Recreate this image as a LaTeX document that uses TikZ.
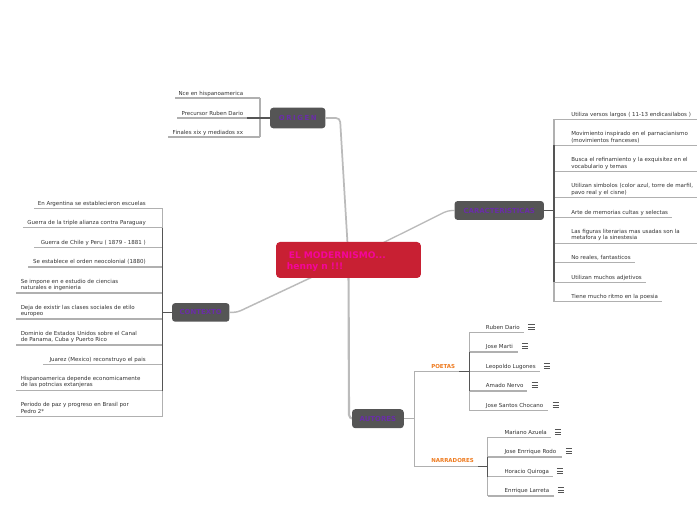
\documentclass[tikz,border=0pt]{standalone}
\usepackage{fontspec}
\usetikzlibrary{backgrounds}
\setmainfont{DejaVu Sans}
\newfontfamily\spacedbold[LetterSpace=22]{DejaVu Sans Bold}
\definecolor{boxgrey}{HTML}{555555}
\definecolor{boxred}{HTML}{C82033}
\definecolor{titlepurple}{HTML}{6A2DA8}
\definecolor{titlepink}{HTML}{F5059A}
\definecolor{subor}{HTML}{EE7A1E}
\definecolor{leafline}{HTML}{B0B0B0}
\definecolor{hubline}{HTML}{555555}
\definecolor{mainline}{HTML}{BBBBBB}
\definecolor{leaftext}{HTML}{333333}
\tikzset{
  x=0.75pt,y=-0.75pt,
  topicbox/.style={draw=none,fill=boxgrey,rounded corners=2.4pt,inner sep=0pt,text=titlepurple,
    font=\fontsize{5.2pt}{6pt}\selectfont\bfseries},
  rootbox/.style={fill=boxred,rounded corners=3pt,inner xsep=8.2pt,inner ysep=0pt,text=titlepink,
    minimum width=108.7pt,minimum height=27pt,text width=92.3pt,align=left,
    font=\fontsize{6.8pt}{8.2pt}\selectfont\bfseries},
  leaf/.style={inner sep=0pt,text=leaftext,align=left,font=\fontsize{4.12pt}{4.9pt}\selectfont},
  leafl/.style={leaf,anchor=west},
  leafr/.style={leaf,anchor=east},
  subtopic/.style={inner sep=0pt,anchor=west,text=subor,font=\fontsize{4.1pt}{5pt}\selectfont\bfseries},
  branch/.style={draw=leafline,line width=0.8pt},
  hub/.style={draw=hubline,line width=1pt},
  mainlink/.style={draw=mainline,line width=1.3pt,rounded corners=3pt},
  iconbar/.style={draw=hubline,line width=0.55pt}
}
\newcommand\uline[4]{\coordinate (#1a) at (#2,#4); \coordinate (#1b) at (#3,#4); \draw[branch] (#1a) -- (#1b);}
\newcommand\menuicon[3]{\coordinate (#1) at (#2,#3);
  \draw[iconbar] ([xshift=-2.4pt,yshift=2pt]#1) -- ([xshift=2.4pt,yshift=2pt]#1)
    ([xshift=-2.4pt]#1) -- ([xshift=2.4pt]#1)
    ([xshift=-2.4pt,yshift=-2pt]#1) -- ([xshift=2.4pt,yshift=-2pt]#1);}
\begin{document}
\begin{tikzpicture}
\useasboundingbox (0,0) rectangle (697,520);

% main nodes
\node[rootbox] (root) at (348.5,260) {\rule{0pt}{7pt}\hspace*{1.5pt}EL MODERNISMO...\\henny n !!!};
\node[topicbox,minimum width=41.6pt,minimum height=15.4pt] (origen) at (297.75,118) {{\spacedbold ORIGEN}};
\node[topicbox,minimum width=67.1pt,minimum height=14.2pt] (carac) at (499.25,210.5) {CARACTERISTICAS};
\node[topicbox,minimum width=38.8pt,minimum height=14.2pt] (autores) at (377.9,418.7) {AUTORES};
\node[topicbox,minimum width=43.1pt,minimum height=14pt] (contexto) at (200.75,312.4) {CONTEXTO};

\begin{scope}[on background layer]
  \fill[white] (0,0) rectangle (697,520);
  \draw[mainlink] (root.center) -- (340,118) -- (origen.east);
  \draw[mainlink,line width=1.6pt] (root.center) -- (349,418.7) -- (autores.west);
  \draw[mainlink,line width=1pt] (root.center) -- (448,210.5) -- (carac.west);
  \draw[mainlink,line width=1.1pt] (root.center) -- (237,312.4) -- (contexto.east);
\end{scope}

% ORIGEN
\uline{oa}{175}{260}{98}
\uline{ob}{177}{260}{118}
\uline{oc}{168}{260}{137}
\draw[branch] (oab) -- (ocb);
\draw[hub] (origen.west) -- (247,118);
\node[leafr] (o1) at (243.5,93.5) {Nce en hispanoamerica};
\node[leafr] (o2) at (243.5,113) {Precursor Ruben Dario};
\node[leafr] (o3) at (243.5,132.5) {Finales xix y mediados xx};

% CARACTERISTICAS
\uline{ca}{554}{697}{119.3}
\uline{cb}{554}{697}{145.3}
\uline{cc}{554}{697}{171.3}
\uline{cd}{554}{697}{197.3}
\uline{ce}{554}{671.7}{217.3}
\uline{cf}{554}{697}{243.3}
\uline{cg}{554}{635}{262.7}
\uline{ch}{554}{645.7}{282.3}
\uline{ci}{554}{661.7}{301.7}
\draw[branch] (caa) -- (cia);
\draw[hub] (cba) -- (cha);
\draw[hub] (carac.east) -- (carac.east-|cca);
\node[leafl] (c1) at (571,114.5) {Utiliza versos largos ( 11-13 endicasilabos )};
\node[leafl] (c2) at (571,137.5) {Movimiento inspirado en el parnacianismo\\(movimientos franceses)};
\node[leafl] (c3) at (571,163.5) {Busca el refinamiento y la exquisitez en el\\vocabulario y temas};
\node[leafl] (c4) at (571,189.5) {Utilizan simbolos (color azul, torre de marfil,\\pavo real y el cisne)};
\node[leafl] (c5) at (571,212.5) {Arte de memorias cultas y selectas};
\node[leafl] (c6) at (571,235) {Las figuras literarias mas usadas son la\\metafora y la sinestesia};
\node[leafl] (c7) at (571,257.5) {No reales, fantasticos};
\node[leafl] (c8) at (571,277.5) {Utilizan muchos adjetivos};
\node[leafl] (c9) at (571,296.8) {Tiene mucho ritmo en la poesia};

% CONTEXTO
\uline{xa}{34}{162.5}{208.3}
\uline{xb}{23}{162.5}{227.7}
\uline{xc}{34}{162.5}{247.3}
\uline{xd}{28}{162.5}{267}
\uline{xe}{16}{162.5}{293}
\uline{xf}{16}{162.5}{319}
\uline{xg}{16}{162.5}{345}
\uline{xh}{43}{162.5}{364.7}
\uline{xi}{16}{162.5}{390.7}
\uline{xj}{16}{162.5}{416.7}
\draw[branch] (xab) -- (xjb);
\draw[hub] (xbb) -- (xib);
\draw[hub] (contexto.west) -- (contexto.west-|xab);
\node[leafr] (x1) at (146,203.5) {En Argentina se establecieron escuelas};
\node[leafr] (x2) at (146,222.8) {Guerra de la triple alianza contra Paraguay};
\node[leafr] (x3) at (146,242.5) {Guerra de Chile y Peru ( 1879 - 1881 )};
\node[leafr] (x4) at (146,262) {Se establece el orden neocolonial (1880)};
\node[leafl] (x5) at (20.5,284.8) {Se impone en e estudio de ciencias\\naturales e ingenieria};
\node[leafl] (x6) at (20.5,310.8) {Deja de existir las clases sociales de etilo\\europeo};
\node[leafl] (x7) at (20.5,336.8) {Dominio de Estados Unidos sobre el Canal\\de Panama, Cuba y Puerto Rico};
\node[leafr] (x8) at (146,359.8) {Juarez (Mexico) reconstruyo el pais};
\node[leafl] (x9) at (20.5,382) {Hispanoamerica depende economicamente\\de las potncias extanjeras};
\node[leafl] (x10) at (20.5,408) {Periodo de paz y progreso en Brasil por\\Pedro 2*};

% AUTORES
\uline{pp}{414.3}{469.3}{371.5}
\uline{nn}{414.3}{487.7}{466.7}
\draw[branch] (ppa) -- (nna);
\draw[branch] (autores.east) -- (autores.east-|ppa);
\draw[hub] (459,371.5) -- (ppb);
\draw[hub] (478,466.7) -- (nnb);
\node[subtopic] (poetas) at (431,366.2) {POETAS};
\node[subtopic] (narr) at (431,461) {NARRADORES};

\uline{pa}{469.3}{524}{332.3}
\uline{pb}{469.3}{517.7}{352}
\uline{pc}{469.3}{540}{371.5}
\uline{pd}{469.3}{527}{391}
\uline{pe}{469.3}{548}{410.7}
\draw[branch] (paa) -- (pea);
\draw[hub,line width=0.9pt] (pba) -- (pda);
\node[leafl] (p1) at (485.7,327.5) {Ruben Dario};
\node[leafl] (p2) at (485.7,346.5) {Jose Marti};
\node[leafl] (p3) at (485.7,366.5) {Leopoldo Lugones};
\node[leafl] (p4) at (485.7,385.5) {Amado Nervo};
\node[leafl] (p5) at (485.7,405.5) {Jose Santos Chocano};
\menuicon{pi1}{531.5}{327}
\menuicon{pi2}{525}{346}
\menuicon{pi3}{547}{366}
\menuicon{pi4}{534.7}{385}
\menuicon{pi5}{555.7}{405}

\uline{na}{487.7}{550.7}{437.3}
\uline{nb}{487.7}{561.7}{457}
\uline{nc}{487.7}{552.7}{476.7}
\uline{nd}{487.7}{554}{496}
\draw[branch] (naa) -- (nda);
\draw[hub,line width=0.9pt] (nba) -- (nca);
\node[leafl] (n1) at (504.3,432.5) {Mariano Azuela};
\node[leafl] (n2) at (504.3,451.5) {Jose Enrrique Rodo};
\node[leafl] (n3) at (504.3,471.5) {Horacio Quiroga};
\node[leafl] (n4) at (504.3,490.5) {Enrrique Larreta};
\menuicon{ni1}{558}{432}
\menuicon{ni2}{569}{451}
\menuicon{ni3}{560}{471}
\menuicon{ni4}{561}{490}
\end{tikzpicture}
\end{document}
